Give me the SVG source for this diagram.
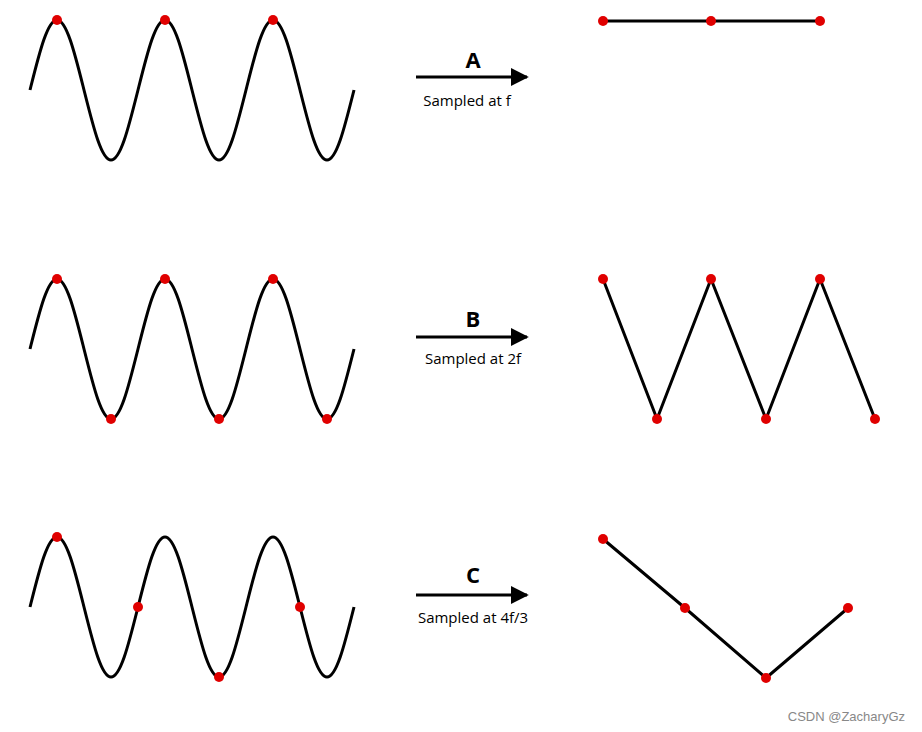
<svg xmlns="http://www.w3.org/2000/svg" width="922" height="732" viewBox="0 0 922 732">
<defs>
<style>
.w{fill:none;stroke:#000;stroke-width:3;stroke-linejoin:round}
.d{fill:#e00000}
.L{font-family:"Open Sans","Liberation Sans",sans-serif;font-size:22px;font-weight:bold;text-anchor:middle}
.s{font-family:"Open Sans","Liberation Sans",sans-serif;font-size:15px;text-anchor:middle}
.a{stroke:#000;stroke-width:3}
</style>
<path id="sine" d="M30,0 c9.03,-35.9 17.27,-70 27,-70 s17.97,34.1 27,70 s17.27,70 27,70 s17.97,-34.1 27,-70 s17.27,-70 27,-70 s17.97,34.1 27,70 s17.27,70 27,70 s17.97,-34.1 27,-70 s17.27,-70 27,-70 s17.97,34.1 27,70 s17.27,70 27,70 s17.97,-34.1 27,-70"/>
<marker id="ah" viewBox="0 0 10 10" refX="9" refY="5" markerWidth="6" markerHeight="6" orient="auto" markerUnits="strokeWidth"><path d="M0,0L10,5L0,10z"/></marker>
</defs>
<rect width="922" height="732" fill="#fff"/>
<g id="waveA"><use href="#sine" class="w" y="90"/><circle class="d" cx="57" cy="20" r="5"/><circle class="d" cx="165" cy="20" r="5"/><circle class="d" cx="273" cy="20" r="5"/></g>
<g id="waveB"><use href="#sine" class="w" y="349"/><circle class="d" cx="57" cy="279" r="5"/><circle class="d" cx="165" cy="279" r="5"/><circle class="d" cx="273" cy="279" r="5"/><circle class="d" cx="111" cy="419" r="5"/><circle class="d" cx="219" cy="419" r="5"/><circle class="d" cx="327" cy="419" r="5"/></g>
<g id="waveC"><use href="#sine" class="w" y="607"/><circle class="d" cx="57" cy="537" r="5"/><circle class="d" cx="138" cy="607" r="5"/><circle class="d" cx="219" cy="677" r="5"/><circle class="d" cx="300" cy="607" r="5"/></g>
<g id="connectors">
<line class="a" x1="416" y1="77" x2="527" y2="77" marker-end="url(#ah)"/>
<line class="a" x1="416" y1="337" x2="527" y2="337" marker-end="url(#ah)"/>
<line class="a" x1="416" y1="595" x2="527" y2="595" marker-end="url(#ah)"/>
</g>
<g id="labels">
<text class="L" x="473" y="68">A</text><text class="s" x="467" y="106">Sampled at f</text>
<text class="L" x="473" y="327">B</text><text class="s" x="473" y="364">Sampled at 2f</text>
<text class="L" x="473" y="583">C</text><text class="s" x="473" y="623">Sampled at 4f/3</text>
</g>
<g id="outA"><polyline class="w" points="603,21 820,21"/><circle class="d" cx="603" cy="21" r="5"/><circle class="d" cx="711" cy="21" r="5"/><circle class="d" cx="820" cy="21" r="5"/></g>
<g id="outB"><polyline class="w" points="603,279 657,419 711,279 766,419 820,279 875,419"/><circle class="d" cx="603" cy="279" r="5"/><circle class="d" cx="657" cy="419" r="5"/><circle class="d" cx="711" cy="279" r="5"/><circle class="d" cx="766" cy="419" r="5"/><circle class="d" cx="820" cy="279" r="5"/><circle class="d" cx="875" cy="419" r="5"/></g>
<g id="outC"><polyline class="w" points="603,539 685,608 766,678 848,608"/><circle class="d" cx="603" cy="539" r="5"/><circle class="d" cx="685" cy="608" r="5"/><circle class="d" cx="766" cy="678" r="5"/><circle class="d" cx="848" cy="608" r="5"/></g>
<text x="905" y="721" font-family="'Liberation Sans',sans-serif" font-size="13" fill="#888" text-anchor="end">CSDN @ZacharyGz</text>
</svg>
